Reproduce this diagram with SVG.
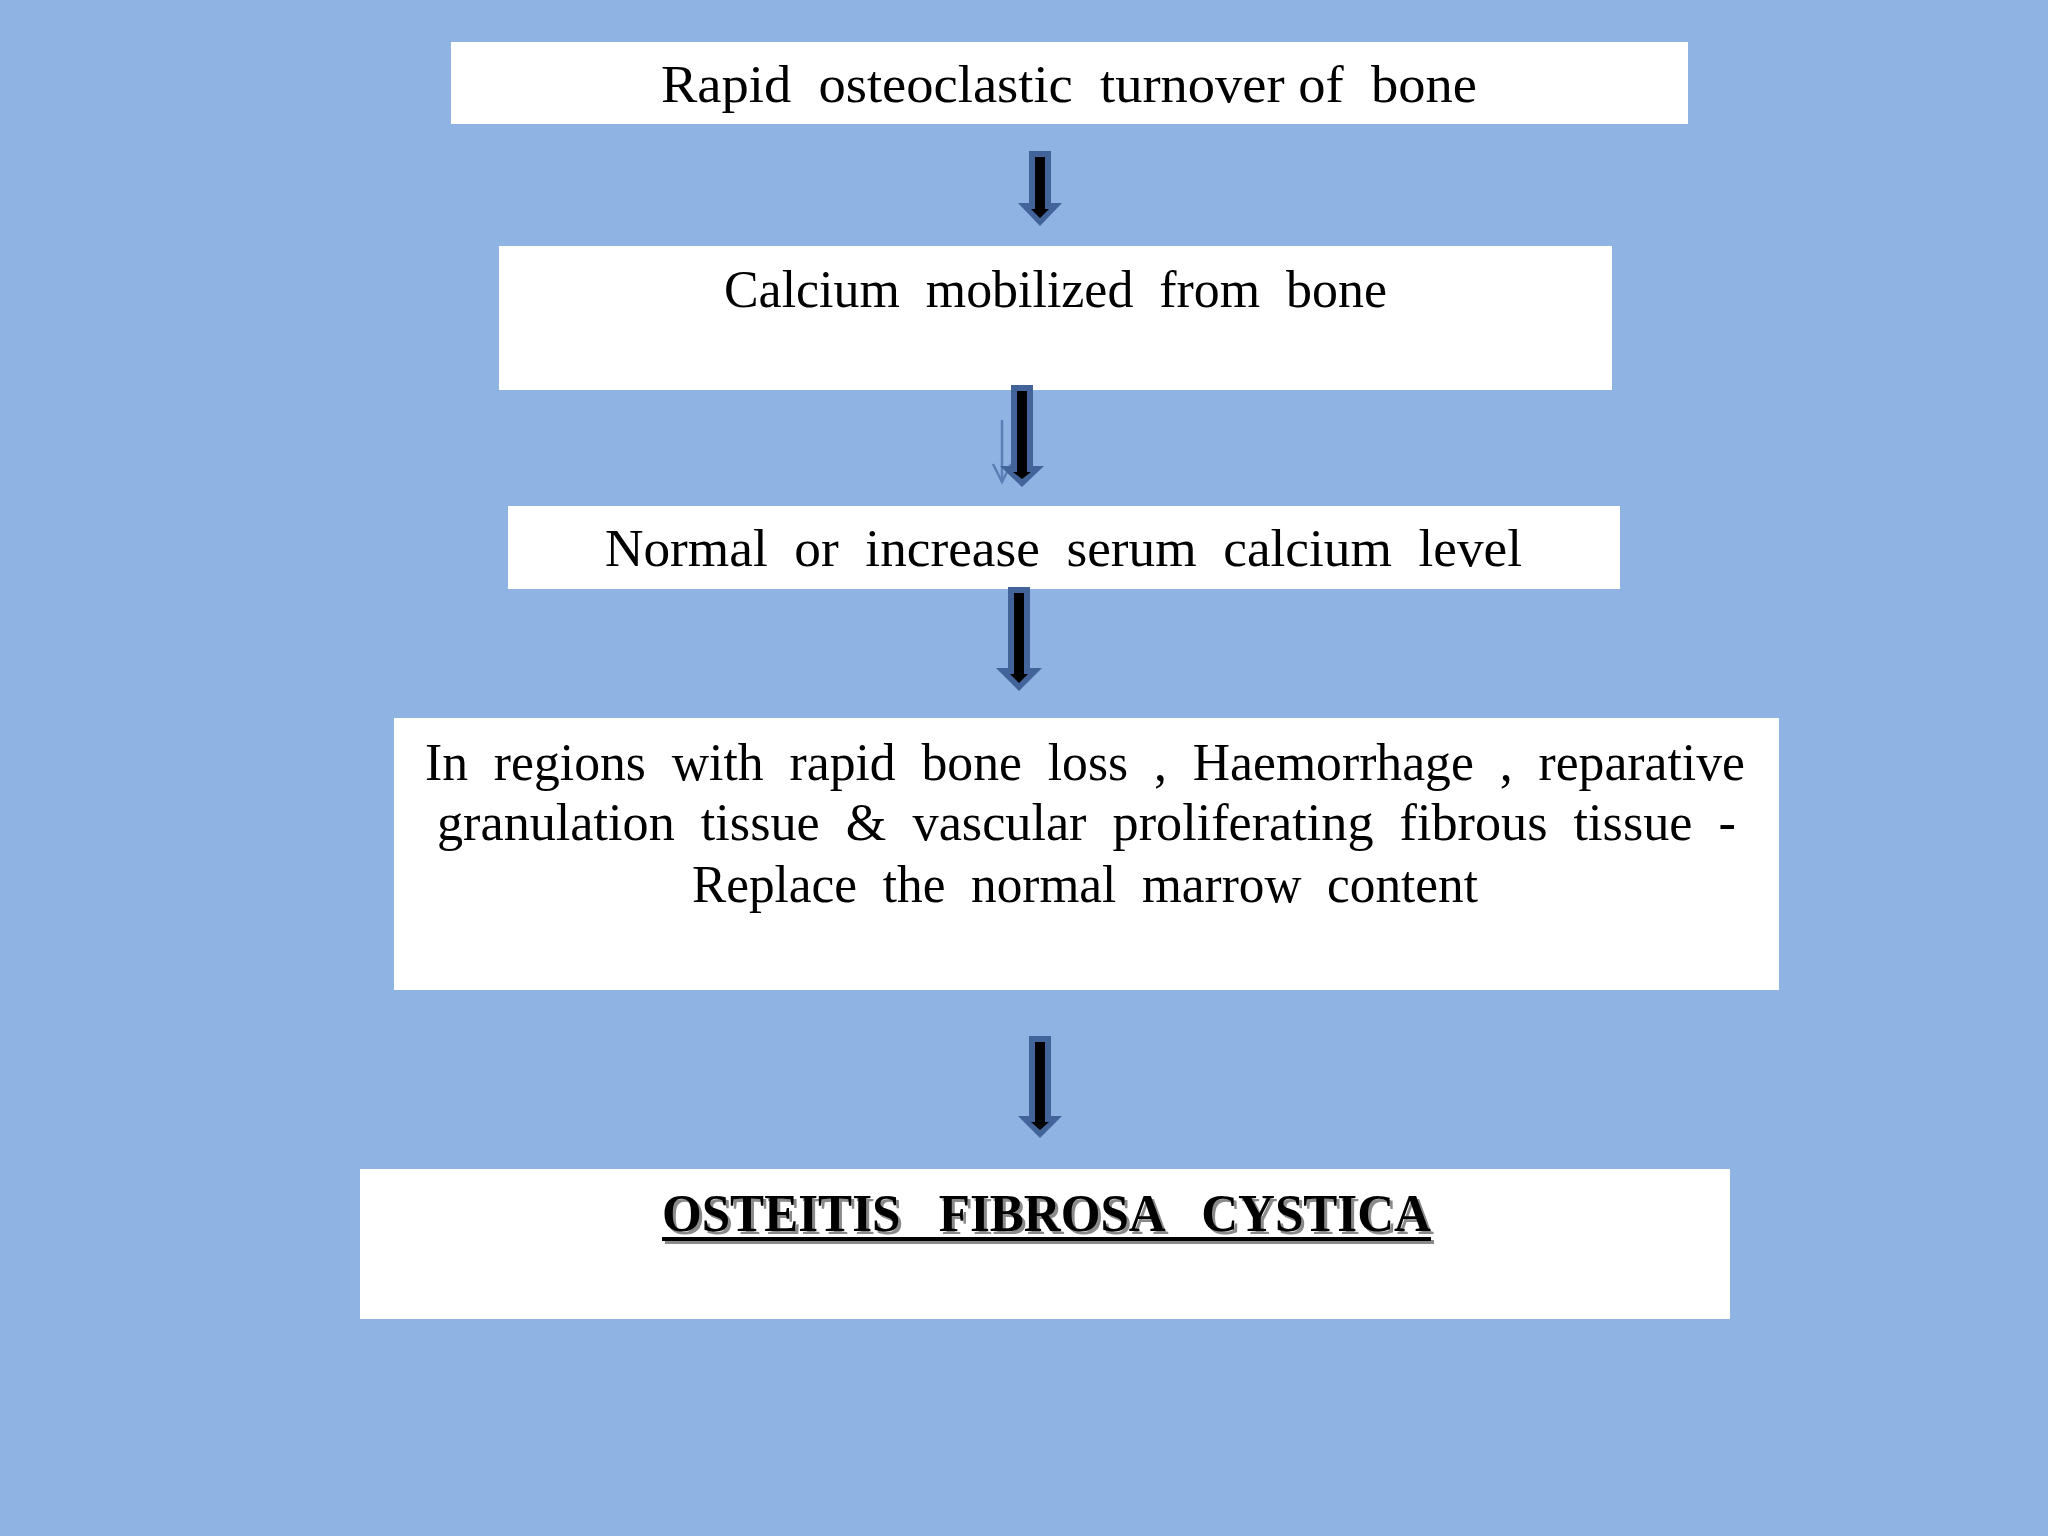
<svg xmlns="http://www.w3.org/2000/svg" width="2048" height="1536" viewBox="0 0 2048 1536">
<style>
.bg{fill:#8fb3e3}
.box{fill:#ffffff}
.t{font-family:"Liberation Serif","Times New Roman",serif;font-size:52px;fill:#000;white-space:pre}
.tb{font-family:"Liberation Serif","Times New Roman",serif;font-size:53px;font-weight:bold;white-space:pre}
.ao{fill:#43649a}
.ai{fill:#000}
.thin{fill:none;stroke:#5b7fb5;stroke-width:2.5}
</style>
<rect class="bg" x="0" y="0" width="2048" height="1536"/>
<g id="node1">
<rect class="box" x="451" y="42" width="1237" height="82"/>
<text class="t" x="661" y="102" textLength="816" lengthAdjust="spacingAndGlyphs">Rapid  osteoclastic  turnover of  bone</text>
</g>
<g id="node2">
<rect class="box" x="499" y="246" width="1113" height="144"/>
<text class="t" x="724" y="307" textLength="663" lengthAdjust="spacingAndGlyphs">Calcium  mobilized  from  bone</text>
</g>
<g id="node3">
<rect class="box" x="508" y="506" width="1112" height="83"/>
<text class="t" x="605" y="566" textLength="917" lengthAdjust="spacingAndGlyphs">Normal  or  increase  serum  calcium  level</text>
</g>
<g id="node4">
<rect class="box" x="394" y="718" width="1385" height="272"/>
<text class="t" x="425" y="780" textLength="1320" lengthAdjust="spacingAndGlyphs">In  regions  with  rapid  bone  loss  ,  Haemorrhage  ,  reparative</text>
<text class="t" x="437" y="840" textLength="1299" lengthAdjust="spacingAndGlyphs">granulation  tissue  &amp;  vascular  proliferating  fibrous  tissue  -</text>
<text class="t" x="692" y="902" textLength="786" lengthAdjust="spacingAndGlyphs">Replace  the  normal  marrow  content</text>
</g>
<g id="node5">
<rect class="box" x="360" y="1169" width="1370" height="150"/>
<text class="tb" x="665" y="1234" fill="#8a8a8a" textLength="769" lengthAdjust="spacingAndGlyphs">OSTEITIS   FIBROSA   CYSTICA</text>
<rect x="665" y="1240" width="769" height="4" fill="#8a8a8a"/>
<text class="tb" x="662" y="1231" fill="#000" textLength="769" lengthAdjust="spacingAndGlyphs">OSTEITIS   FIBROSA   CYSTICA</text>
<rect x="662" y="1237" width="769" height="4" fill="#000"/>
</g>
<g id="connectors">
<g id="arrow1">
<polygon class="ao" points="1029,151 1051,151 1051,203 1062,203 1040,226 1018,203 1029,203"/>
<polygon class="ai" points="1035,157 1045,157 1045,209 1049,209 1040,218 1031,209 1035,209"/>
</g>
<g id="arrow2">
<line class="thin" x1="1002" y1="420" x2="1002" y2="481"/>
<polyline class="thin" points="993,464 1002,482 1011,464"/>
<polygon class="ao" points="1011,385 1033,385 1033,466 1044,466 1022,487 1000,466 1011,466"/>
<polygon class="ai" points="1017,391 1027,391 1027,472 1031,472 1022,479 1013,472 1017,472"/>
</g>
<g id="arrow3">
<polygon class="ao" points="1008,587 1030,587 1030,668 1042,668 1019,691 996,668 1008,668"/>
<polygon class="ai" points="1014,593 1024,593 1024,674 1028,674 1019,683 1010,674 1014,674"/>
</g>
<g id="arrow4">
<polygon class="ao" points="1029,1036 1051,1036 1051,1116 1062,1116 1040,1138 1018,1116 1029,1116"/>
<polygon class="ai" points="1035,1042 1045,1042 1045,1122 1049,1122 1040,1130 1031,1122 1035,1122"/>
</g>
</g>
</svg>
